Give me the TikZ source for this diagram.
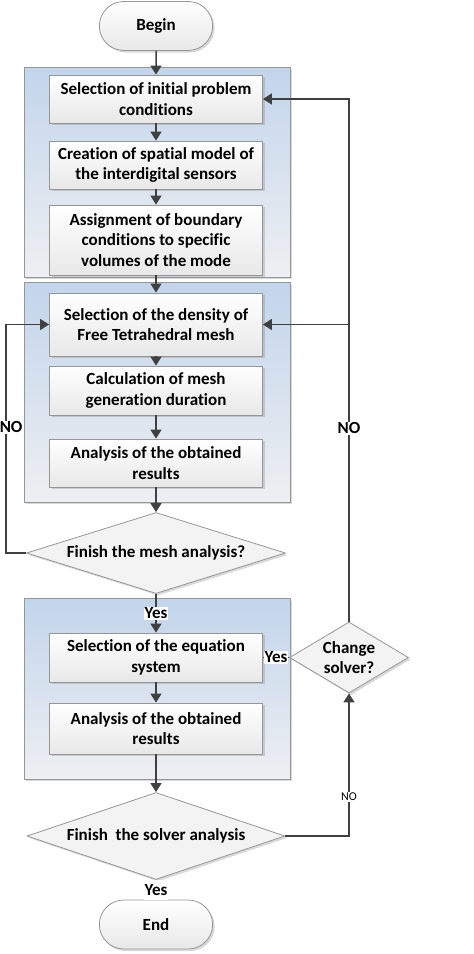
\documentclass[tikz,border=0pt]{standalone}
\usepackage{fontspec}
\setmainfont{Carlito}[Ligatures=NoCommon]
\usepackage{tikz}
\usetikzlibrary{arrows.meta,shapes,shadows}
\usetikzlibrary{calc,positioning,backgrounds}

\definecolor{linegray}{RGB}{64,64,64}
\definecolor{edgegray}{RGB}{150,150,150}
\definecolor{panelblue}{RGB}{194,213,235}
\definecolor{panelgray}{RGB}{238,239,242}
\definecolor{boxgray}{RGB}{232,232,232}
\definecolor{diagray}{RGB}{243,243,243}

\begin{document}
\begin{tikzpicture}[x=1pt,y=1pt,on grid,
  >={Triangle[width=11pt,length=9pt]},
  every node/.style={font=\fontsize{17}{20.5}\selectfont\bfseries},
  flow/.style={draw=linegray,line width=1.5pt},
  softshadow/.style={drop shadow={opacity=0.3,shadow xshift=2pt,shadow yshift=-2pt}},
  stage/.style={rectangle,draw=edgegray,line width=0.8pt,top color=white,bottom color=boxgray,
    minimum width=213pt,align=center,softshadow},
  term/.style={rounded rectangle,draw=edgegray,line width=0.8pt,top color=white,bottom color=boxgray,
    minimum width=120pt,minimum height=49pt,softshadow},
  decision/.style={diamond,draw=edgegray,line width=0.8pt,fill=diagray,inner sep=0pt,align=center,softshadow},
  panel/.style={draw=edgegray,line width=0.8pt,top color=panelblue,bottom color=panelgray,softshadow},
  answer/.style={fill=white,inner sep=1pt}
]
  \useasboundingbox (0,0) rectangle (474,-954);

  \node[term] (begin) at (156,-26) {Begin};
  \node[stage,minimum height=48pt] (init) [below=73pt of begin] {Selection of initial problem\\conditions};
  \node[stage,minimum height=48pt] (model) [below=66pt of init] {Creation of spatial model of\\the interdigital sensors};
  \node[stage,minimum height=70pt] (bound) [below=75pt of model] {Assignment of boundary\\conditions to specific\\volumes of the mode};
  \node[stage,minimum height=63pt] (density) [below=84.5pt of bound] {Selection of the density of\\Free Tetrahedral mesh};
  \node[stage,minimum height=49pt] (duration) [below=66pt of density] {Calculation of mesh\\generation duration};
  \node[stage,minimum height=48pt] (meshres) [below=72.5pt of duration] {Analysis of the obtained\\results};
  \node[decision,shape aspect=4,minimum width=259pt,minimum height=81pt] (meshq) [below=90pt of meshres] {Finish the mesh analysis?};
  \node[stage,minimum height=49pt] (equation) [below=104.5pt of meshq] {Selection of the equation\\system};
  \node[stage,minimum height=51pt] (solverres) [below=71pt of equation] {Analysis of the obtained\\results};
  \node[decision,shape aspect=4,minimum width=258pt,minimum height=87pt] (solverq) [below=107.5pt of solverres] {Finish~ the solver analysis};
  \node[term] (end) [below=88.5pt of solverq] {End};
  \node[decision,shape aspect=1.7,minimum width=119pt,minimum height=71pt] (change) [right=193pt of equation] {Change\\solver?};

  % shaded groups behind the steps
  \begin{scope}[on background layer]
    \path[panel] ($(init.north west)+(-25,7)$) rectangle ($(bound.south east)+(27,-2)$);
    \path[panel] ($(density.north west)+(-25,10)$) rectangle ($(meshres.south east)+(27,-15)$);
    \path[panel] ($(equation.north west)+(-25,34)$) rectangle ($(solverres.south east)+(27,-25)$);
  \end{scope}

  \coordinate (junction) at (change.north |- density.east);

  \draw[flow,->] (begin) -- (init);
  \draw[flow,->] (init) -- (model);
  \draw[flow,->] (model) -- (bound);
  \draw[flow,->] (bound) -- (density);
  \draw[flow,->] (density) -- (duration);
  \draw[flow,->] (duration) -- (meshres);
  \draw[flow,->] (meshres) -- (meshq);
  \draw[flow,->] (meshq) -- node[answer]{Yes} (equation);
  \draw[flow,->] (meshq.west) -- ++(-20,0) |- node[answer,pos=0.275,xshift=5pt]{NO} (density.west);
  \draw[flow,->] (equation) -- (solverres);
  \draw[flow,->] (solverres) -- (solverq);
  \draw[flow,->] (solverq) -- node[answer,minimum height=20pt]{Yes} (end);
  \draw[flow,->] (solverq.east) -| node[answer,pos=0.637,font=\fontsize{12}{14}\selectfont]{NO} (change.south);
  \draw[flow,->] (change.north) |- node[answer,pos=0.185]{NO} (init.east);
  \draw[flow,->] (junction) -- (density.east);
  \draw[flow,->] (change.west) -- node[answer,inner sep=0.5pt]{Yes} (equation.east);
\end{tikzpicture}
\end{document}
